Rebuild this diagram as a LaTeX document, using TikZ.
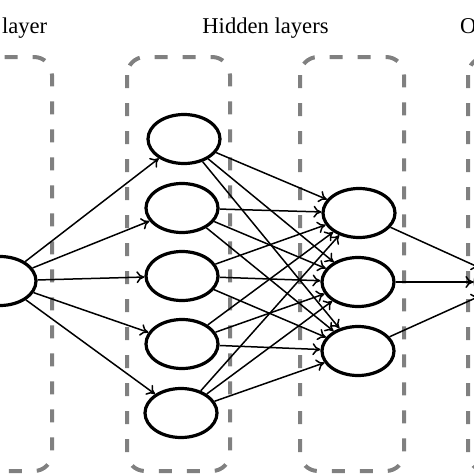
\documentclass[tikz,border=0pt]{standalone}
\usepackage{fontspec}
\setmainfont{Liberation Serif}
\usetikzlibrary{shapes.geometric,arrows.meta}
\definecolor{BoxGray}{RGB}{128,128,128}

\begin{document}
\begin{tikzpicture}[x=1pt, y=-1pt,
    neuron/.style={draw, ellipse, line width=3.2pt, fill=white,
      minimum width=72pt, minimum height=49pt, inner sep=0pt},
    layerbox/.style={BoxGray, line width=4pt, dash pattern=on 13pt off 15pt,
      rounded corners=18pt},
    link/.style={-{To[length=8pt,width=12pt]}, line width=1.5pt},
    title/.style={font=\fontsize{22.6}{27}\selectfont, anchor=base}]
  \useasboundingbox (0,0) rectangle (474,474);
  \clip (0,0) rectangle (474,474);

  % layer frames
  \draw[layerbox] (-51,57) rectangle (52,471);
  \draw[layerbox] (127,57) rectangle (230,471);
  \draw[layerbox] (300,57) rectangle (404,471);
  \draw[layerbox] (468,57) rectangle (571,471);

  \node[title] (lblIn) at (-2,33) {Input layer};
  \node[title] (lblHidden) at (265.5,33) {Hidden layers};
  \node[title] (lblOut) at (517,33) {Output layer};

  % neurons
  \node[neuron] (in1) at (0,281) {};
  \node[neuron] (hA1) at (184,139) {};
  \node[neuron] (hA2) at (182,208) {};
  \node[neuron] (hA3) at (182,276) {};
  \node[neuron] (hA4) at (182,344) {};
  \node[neuron] (hA5) at (181,413) {};
  \node[neuron] (hB1) at (359,213) {};
  \node[neuron] (hB2) at (358,282) {};
  \node[neuron] (hB3) at (358,351) {};
  \node[neuron] (out1) at (511,282) {};

  % connections
  \foreach \i in {1,...,5} {
    \draw[link] (in1) -- (hA\i);
    \foreach \j in {1,2,3}
      \draw[link] (hA\i) -- (hB\j);
  }
  \foreach \j in {1,2,3}
    \draw[link] (hB\j) -- (out1);
\end{tikzpicture}
\end{document}
